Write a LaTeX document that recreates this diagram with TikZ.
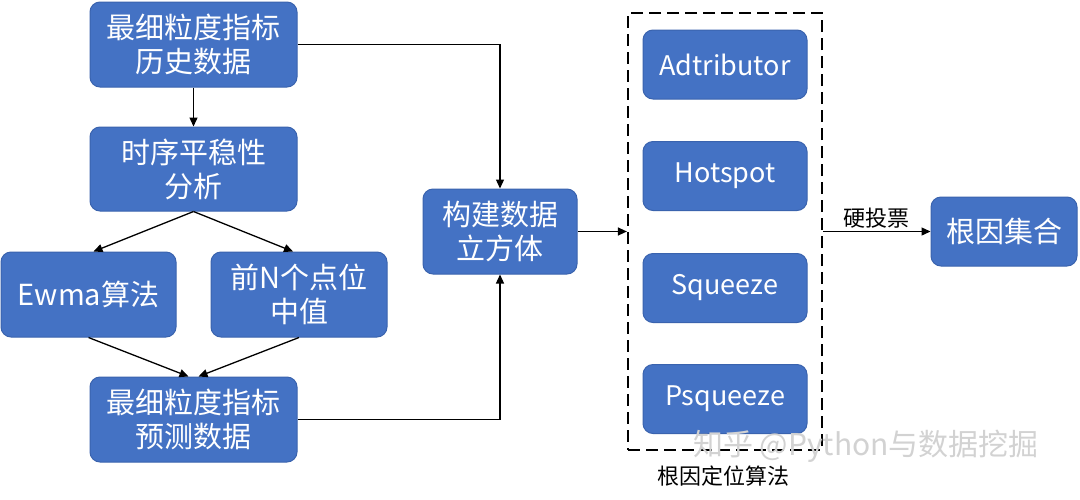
\documentclass[tikz,border=0pt]{standalone}
\usepackage{fontspec}
\setmainfont{Noto Sans CJK SC}
\usetikzlibrary{arrows.meta,positioning}
\definecolor{boxblue}{HTML}{4472C4}
\definecolor{boxedge}{HTML}{3A63AE}
\tikzset{
  blk/.style={draw=boxedge, fill=boxblue, line width=1pt, rounded corners=10pt,
    text=white, align=center, inner sep=0pt, font=\fontsize{29}{34}\selectfont},
  arr/.style={line width=1.3pt, -{Triangle[length=9pt,width=8pt]}},
  lbl/.style={font=\fontsize{22}{26}\selectfont, text=black},
  grp/.style={draw=black, line width=2.2pt, dash pattern=on 12pt off 6pt}
}
\begin{document}
\begin{tikzpicture}[x=1pt,y=-1pt]
\useasboundingbox (0,0) rectangle (1080,499);
\fill[white] (0,0) rectangle (1080,499);
% left column
\node[blk, minimum width=207pt, minimum height=85pt] (hist) at (193.5,44.5) {最细粒度指标\\历史数据};
\node[blk, minimum width=207pt, minimum height=84pt] (stat) at (193.5,169) {时序平稳性\\分析};
\node[blk, minimum width=175pt, minimum height=85pt] (ewma) at (88.5,294.5) {Ewma算法};
\node[blk, minimum width=176pt, minimum height=85pt] (topn) at (299,294.5) {前N个点位\\中值};
\node[blk, minimum width=207pt, minimum height=85pt] (pred) at (193.5,419.5) {最细粒度指标\\预测数据};
% cube
\node[blk, minimum width=154pt, minimum height=85pt] (cube) at (500,231.5) {构建数据\\立方体};
% group
\node[grp, minimum width=194pt, minimum height=437pt, inner sep=0pt] (grp) at (725,231.5) {};
\node[lbl, anchor=north] (grplbl) at (723,462) {根因定位算法};
\tikzset{alg/.style={blk, minimum width=164pt, minimum height=69pt, font=\fontsize{27}{32}\selectfont}}
\node[alg] (adt) at (725,64.5) {Adtributor};
\node[alg] (hot) at (725,176) {Hotspot};
\node[alg] (sqz) at (725,288) {Squeeze};
\node[alg] (psq) at (725,399) {Psqueeze};
% result
\node[blk, minimum width=146pt, minimum height=69pt] (root) at (1004,231.5) {根因集合};
% connectors
\draw[arr] (hist.south) -- (stat.north);
\draw[arr] (stat.south) -- ([xshift=5pt]ewma.north);
\draw[arr] (stat.south) -- ([xshift=-6pt]topn.north);
\draw[arr] (ewma.south) -- ([xshift=-5pt]pred.north);
\draw[arr] (topn.south) -- ([xshift=5pt]pred.north);
\draw[arr] (hist.east) -| (cube.north);
\draw[arr] (pred.east) -| (cube.south);
\draw[arr] (cube.east) -- (grp.west);
\draw[arr] (grp.east) -- node[lbl, above, yshift=-1pt] {硬投票} (root.west);
% watermark
\node[font=\fontsize{30}{34}\selectfont, text=gray!35, inner sep=1pt] (wm) at (866,446) {知乎 @Python与数据挖掘};
\end{tikzpicture}
\end{document}
